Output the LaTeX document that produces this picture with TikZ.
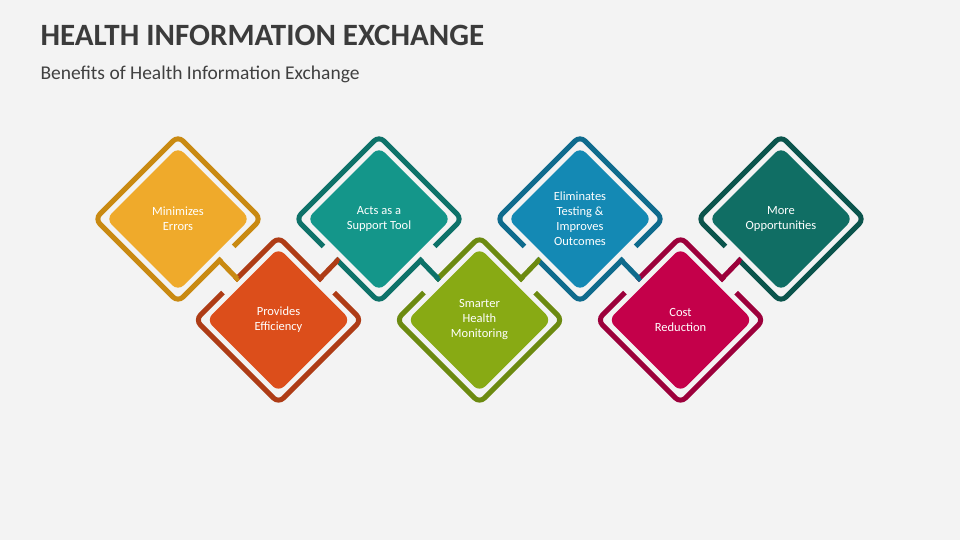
\documentclass[tikz,border=0pt]{standalone}
\usepackage{fontspec}
\setmainfont{Carlito}
\definecolor{bg}{HTML}{F3F3F3}
\definecolor{f0}{HTML}{EFAA2B}\definecolor{o0}{HTML}{C98A12}
\definecolor{f1}{HTML}{DC4E1B}\definecolor{o1}{HTML}{AE3C16}
\definecolor{f2}{HTML}{14968A}\definecolor{o2}{HTML}{0E7269}
\definecolor{f3}{HTML}{88AA14}\definecolor{o3}{HTML}{6C8A10}
\definecolor{f4}{HTML}{1489B4}\definecolor{o4}{HTML}{0F6B8D}
\definecolor{f5}{HTML}{C4004A}\definecolor{o5}{HTML}{9C003B}
\definecolor{f6}{HTML}{106E64}\definecolor{o6}{HTML}{0B544C}
\tikzset{outl/.style={line width=5pt,rounded corners=7pt},
 erase/.style={line width=8pt,draw=bg},
 lbl/.style={text=white,font=\fontsize{12.5}{15}\selectfont,align=center}}
\begin{document}
\begin{tikzpicture}[x=1pt,y=-1pt]
\fill[bg] (0,0) rectangle (960,540);
\useasboundingbox (0,0) rectangle (960,540);
\node[anchor=base west,text=black!77,font=\fontsize{31}{36}\selectfont\bfseries] (title) at (37,46) {HEALTH INFORMATION EXCHANGE};
\node[anchor=base west,text=black!75,font=\fontsize{19.5}{24}\selectfont] (sub) at (37,80) {Benefits of Health Information Exchange};
\def\R{83}\def\r{72}
% outlines
\foreach \i in {0,...,6}{
  \pgfmathsetmacro\cx{178+100.5*\i}
  \pgfmathsetmacro\cy{isodd(\i)?320:219}
  \draw[outl,draw=o\i] (\cx+\R,\cy)--(\cx,\cy+\R)--(\cx-\R,\cy)--(\cx,\cy-\R)--cycle;
}
% gaps and steps
\foreach \i in {0,...,5}{
  \pgfmathsetmacro\cx{178+100.5*\i}
  \pgfmathsetmacro\cxb{178+100.5*(\i+1)}
  \ifodd\i
    % bottom (i) to top (i+1): upper-right edge of i, lower-left edge of i+1
    \pgfmathsetmacro\ax{\cx+\R/2}\pgfmathsetmacro\ay{320-\R/2}
    \pgfmathsetmacro\bx{\cxb-\R/2}\pgfmathsetmacro\by{219+\R/2}
    \draw[erase] (\ax+2,\ay+2)--(\ax+14,\ay+14);
    \draw[erase] (\bx-2,\by-2)--(\bx-14,\by-14);
    \draw[line width=5pt,draw=o\i] (\ax-1,\ay-1)--(\ax,\ay)--(\bx,\by)--(\bx+1,\by+1);
  \else
    \pgfmathsetmacro\ax{\cx+\R/2}\pgfmathsetmacro\ay{219+\R/2}
    \pgfmathsetmacro\bx{\cxb-\R/2}\pgfmathsetmacro\by{320-\R/2}
    \draw[erase] (\ax+2,\ay-2)--(\ax+14,\ay-14);
    \draw[erase] (\bx-2,\by+2)--(\bx-14,\by+14);
    \draw[line width=5pt,draw=o\i] (\ax-1,\ay+1)--(\ax,\ay)--(\bx,\by)--(\bx+1,\by-1);
  \fi
}
% fills
\foreach \i/\t in {0/{Minimizes\\Errors},1/{Provides\\Efficiency},2/{Acts as a\\Support Tool},3/{Smarter\\Health\\Monitoring},4/{Eliminates\\Testing \&\\Improves\\Outcomes},5/{Cost\\Reduction},6/{More\\Opportunities}}{
  \pgfmathsetmacro\cx{178+100.5*\i}
  \pgfmathsetmacro\cy{isodd(\i)?320:219}
  \fill[f\i,rounded corners=8pt] (\cx+\r,\cy)--(\cx,\cy+\r)--(\cx-\r,\cy)--(\cx,\cy-\r)--cycle;
  \node[lbl] (d\i) at (\cx,\cy) {\t};
}
\end{tikzpicture}
\end{document}
